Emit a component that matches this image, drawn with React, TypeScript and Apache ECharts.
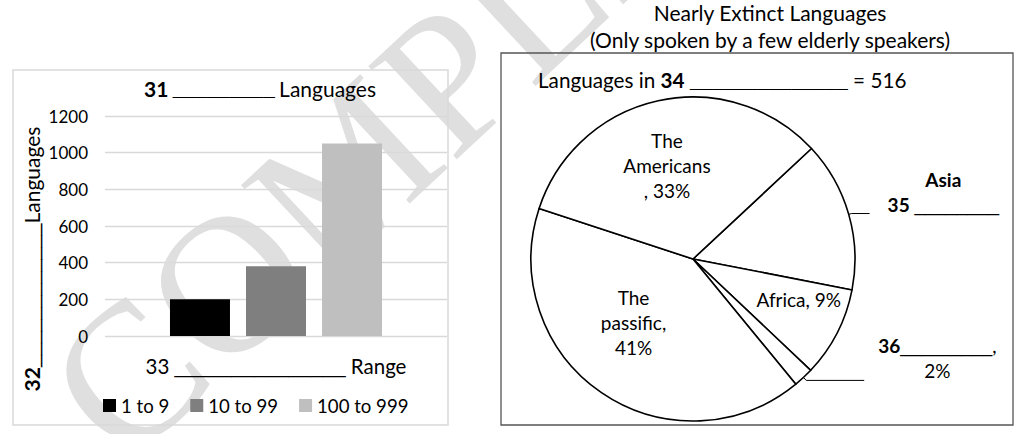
import React, { useEffect, useRef } from "react";
import * as echarts from "echarts";

// ---- Bar chart data ----
const barCategories = ["Languages"];
const rangeNames = ["1 to 9", "10 to 99", "100 to 999"];
const rangeValues = [200, 380, 1050];
const rangeColors = ["#000000", "#7f7f7f", "#bfbfbf"];
const yMin = 0;
const yMax = 1200;
const yInterval = 200;

// ---- Pie chart data (clockwise from the upper-right boundary) ----
const regionNames = ["Asia", "Africa", "36", "The passific", "The Americans"];
const regionShares = [15, 9, 2, 41, 33];
const regionLabels = [
  "{b|Asia}\n{n|35} {u|________}",
  "Africa, 9%",
  "{n|36}{v|_________},\n{c|2%}",
  "The\npassific,\n41%",
  "The\nAmericans\n, 33%",
];
const regionOutside = [true, false, true, false, false];

const FONT = "Lato";
const LINEFONT = "Liberation Sans";

export default function App() {
  const ref = useRef<HTMLDivElement>(null);

  useEffect(() => {
    if (!ref.current) return;
    const chart = echarts.init(ref.current, null, { renderer: "svg" });

    const labelPadding: Record<number, number[]> = {
      0: [0, 0, 44, 13],
      1: [4, 0, 0, 62],
      2: [0, 0, 44, 9],
      3: [0, 24, 12, 0],
      4: [0, 16, 22, 0],
    };

    const pieData = regionNames.map((name, i) => ({
      name,
      value: regionShares[i],
      label: {
        show: true,
        position: regionOutside[i] ? "outside" : "inside",
        formatter: regionLabels[i],
        padding: labelPadding[i],
        lineHeight: 25,
      },
      labelLine: regionOutside[i]
        ? { show: true, length: i === 0 ? 3 : 4, length2: i === 0 ? 18 : 58, lineStyle: { color: "#000", width: 1 } }
        : { show: false },
    }));

    const option: any = {
      animation: false,
      backgroundColor: "#ffffff",
      textStyle: { fontFamily: FONT, color: "#000" },
      title: [
        {
          text: "{b|31} {u|_________} {r|Languages}",
          left: 260,
          top: 88,
          padding: 0,
          textAlign: "center",
          textVerticalAlign: "middle",
          textStyle: {
            fontFamily: FONT,
            rich: {
              b: { fontFamily: FONT, fontWeight: "bold", fontSize: 21, color: "#000" },
              r: { fontFamily: FONT, fontWeight: "normal", fontSize: 21, color: "#000" },
              u: { fontFamily: LINEFONT, fontSize: 20.4, color: "#000" },
            },
          },
        },
        {
          text: "Nearly Extinct Languages\n(Only spoken by a few elderly speakers)",
          left: 770,
          top: 26,
          padding: 0,
          textAlign: "center",
          textVerticalAlign: "middle",
          textStyle: { fontFamily: FONT, fontWeight: "normal", fontSize: 21, lineHeight: 27, color: "#000" },
        },
        {
          text: "{r|Languages in }{b|34}{r| }{u|______________}{r| = 516}",
          left: 538,
          top: 80,
          padding: 0,
          textAlign: "left",
          textVerticalAlign: "middle",
          textStyle: {
            fontFamily: FONT,
            rich: {
              b: { fontFamily: FONT, fontWeight: "bold", fontSize: 20.7, color: "#000" },
              r: { fontFamily: FONT, fontWeight: "normal", fontSize: 20.7, color: "#000" },
              u: { fontFamily: LINEFONT, fontSize: 20.3, color: "#000" },
            },
          },
        },
      ],
      legend: {
        data: rangeNames,
        left: 103,
        top: 396,
        padding: 0,
        itemWidth: 13,
        itemHeight: 13,
        itemGap: 21,
        icon: "rect",
        textStyle: { fontFamily: FONT, fontSize: 18.6, color: "#000" },
      },
      grid: { left: 105, right: 577, top: 116, bottom: 98 },
      xAxis: {
        type: "category",
        data: barCategories,
        axisLine: { show: false },
        axisTick: { show: false },
        axisLabel: { show: false },
        splitLine: { show: false },
        name: "{r|33 }{u|_______________}{r| Range}",
        nameLocation: "middle",
        nameGap: 19,
        nameMoveOverlap: false,
        nameTextStyle: {
          rich: {
            r: { fontFamily: FONT, fontSize: 20.5, color: "#000" },
            u: { fontFamily: LINEFONT, fontSize: 20.5, color: "#000" },
          },
        },
      },
      yAxis: {
        type: "value",
        min: yMin,
        max: yMax,
        interval: yInterval,
        axisLine: { show: false },
        axisTick: { show: false },
        axisLabel: {
          fontFamily: FONT,
          fontSize: 17,
          color: "#000",
          margin: 17,
          formatter: (v: number) => String(v),
        },
        splitLine: { lineStyle: { color: "#d9d9d9", width: 1.3 } },
        name: "{b|32}{u|____________}{r|Languages}",
        nameLocation: "middle",
        nameRotate: 90,
        nameGap: 63,
        nameMoveOverlap: false,
        nameTextStyle: {
          padding: [0, 66, 0, 0],
          rich: {
            b: { fontFamily: FONT, fontWeight: "bold", fontSize: 21, color: "#000" },
            r: { fontFamily: FONT, fontSize: 21, color: "#000" },
            u: { fontFamily: LINEFONT, fontSize: 21.5, color: "#000" },
          },
        },
      },
      series: [
        ...rangeNames.map((name, i) => ({
          type: "bar",
          name,
          data: [rangeValues[i]],
          barWidth: 60,
          barGap: "26.7%",
          itemStyle: { color: rangeColors[i] },
          emphasis: { disabled: true },
        })),
        {
          type: "pie",
          center: [693, 259],
          radius: 162,
          startAngle: 43,
          clockwise: true,
          avoidLabelOverlap: false,
          itemStyle: { color: "#ffffff", borderColor: "#000000", borderWidth: 1.6 },
          emphasis: { disabled: true },
          label: {
            color: "#000",
            fontFamily: FONT,
            fontSize: 19,
            distanceToLabelLine: 5,
            rich: {
              b: { fontFamily: FONT, fontWeight: "bold", fontSize: 19, color: "#000", align: "center" },
              n: { fontFamily: FONT, fontWeight: "bold", fontSize: 19, color: "#000" },
              u: { fontFamily: LINEFONT, fontSize: 19, color: "#000" },
              v: { fontFamily: LINEFONT, fontSize: 18.4, color: "#000" },
              c: { fontFamily: FONT, fontSize: 19, color: "#000", align: "center" },
            },
          },
          data: pieData,
        },
      ],
      graphic: [
        {
          type: "text",
          z: -10,
          x: 80,
          y: 420,
          rotation: (43 * Math.PI) / 180,
          silent: true,
          style: {
            text: "COMPLETE IELTS",
            fontFamily: "Liberation Serif",
            fontSize: 196,
            fill: "#dfdfdf",
            align: "left",
            verticalAlign: "middle",
          },
        },
        {
          type: "rect",
          z: -5,
          silent: true,
          shape: { x: 13, y: 70, width: 435, height: 355 },
          style: { fill: "none", stroke: "#d9d9d9", lineWidth: 1.5 },
        },
        {
          type: "rect",
          z: -5,
          silent: true,
          shape: { x: 501, y: 53, width: 512, height: 372 },
          style: { fill: "none", stroke: "#555555", lineWidth: 1.3 },
        },
      ],
    };

    chart.setOption(option);
    return () => chart.dispose();
  }, []);

  return (
    <div
      ref={ref}
      style={{ position: "absolute", left: 0, top: 0, width: 1024, height: 434 }}
    />
  );
}
